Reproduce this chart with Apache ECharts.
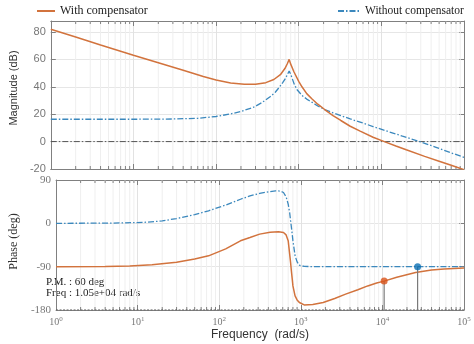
<!DOCTYPE html>
<html><head><meta charset="utf-8">
<script src="https://cdn.jsdelivr.net/npm/echarts@6/dist/echarts.min.js"></script>
<style>html,body{margin:0;padding:0;background:#fff}#c{width:474px;height:344px}</style>
</head><body><div id="c"></div>
<script>
// ---------- data ----------
const magWithFreq = [1,2,4,10,20,40,70,100,150,220,300,400,500,600,680,730,766,800,877,1000,1100,1250,1440,1700,2060,2600,3230,4200,5540,7940,10860,15000,20000,33400,50000,70000,100000];
const magWith     = [82,76.3,70.5,63,57.5,52,47.5,45,42.8,41.8,41.8,43,45.3,48.8,53.3,57,60,56.5,50.8,44,39.8,35,31.3,27.3,23.4,19,15.4,11.2,7.6,3.2,0,-3.2,-6,-10.8,-14.3,-17.3,-20.5];

const magWithoutFreq = [1,10,30,60,100,150,200,285,360,446,520,585,640,690,730,766,800,877,950,1097,1250,1438,1700,2060,2600,3230,4200,5540,7940,12000,18000,29200,45000,70000,100000];
const magWithout     = [16.3,16.3,16.5,17,18.3,20.2,22,25.1,28.5,32.5,36,39.8,43,46,49,51.5,49.2,42.3,38,33.7,31,28.8,26,23.4,21,19,16.5,14.2,11,7.4,4,0,-4,-8.2,-11.5];

const phWithoutFreq = [1,5,12,20,30,50,74,120,182,238,313,400,490,560,613,660,700,730,750,775,800,850,900,960,1100,1500,3000,10000,100000];
const phWithout     = [0,0.5,2,5,10,18,26,38,50,57,62,65.5,67.5,67,64,55,40,22,5,-15,-36,-67,-80,-87,-89.5,-90,-90,-90,-90];

const phWithFreq = [1,4,8,15,30,50,74,120,182,238,313,420,533,613,660,700,730,750,766,785,800,850,900,960,1100,1400,1880,2600,3540,5000,6600,8500,10500,15000,25500,40000,57000,100000];
const phWith     = [-90,-89.5,-88.5,-86,-81,-74,-67.5,-53,-36.3,-29.5,-22.4,-18.5,-17.7,-19,-24,-36,-64,-82,-99,-116,-130,-150.6,-159,-164.5,-169.5,-168.5,-164.5,-156,-147,-138,-130,-124,-120,-112,-102,-97,-95,-93];

const pmPointWith    = [10500, -120];   // phase margin point, with compensator
const pmPointWithout = [27000, -90];    // crossover point, without compensator
const magTicks   = [-20, 0, 20, 40, 60, 80];
const phaseTicks = [-180, -90, 0, 90];
const decades    = [1, 10, 100, 1000, 10000, 100000];
const minorFreqs = [];
for (let k = 0; k < 5; k++) for (let m = 2; m <= 9; m++) minorFreqs.push(m * Math.pow(10, k));

const zip = (a, b) => a.map((v, i) => [v, b[i]]);
const ORANGE = '#d2733d', BLUE = '#3b88bd';
const SERIF = 'Liberation Serif', SANS = 'Liberation Sans';
const DASHDOT = [6, 2, 1.5, 2];

const chart = echarts.init(document.getElementById('c'));

function baseX(gridIndex, pos, showLabel) {
  return {
    type: 'log', logBase: 10, min: 1, max: 100000, gridIndex, position: pos,
    axisLine: { show: true, onZero: false, lineStyle: { color: '#808080', width: 1 } },
    axisTick: { show: true, inside: true, length: 5, lineStyle: { color: '#808080' } },
    axisLabel: showLabel ? {
      show: true, margin: 6,
      formatter: v => '{b|10}{s|' + Math.round(Math.log10(v)) + '}',
      rich: {
        b: { fontFamily: SERIF, fontSize: 10, color: '#777', lineHeight: 12 },
        s: { fontFamily: SERIF, fontSize: 7, color: '#777', verticalAlign: 'top', lineHeight: 12, padding: [0, 0, 4, 0] }
      }
    } : { show: false },
    splitLine: { show: pos === 'bottom', lineStyle: { color: '#e2e2e2', width: 1 } }
  };
}
function baseY(gridIndex, pos, min, max, interval, font, show) {
  return {
    type: 'value', gridIndex, position: pos, min, max, interval,
    axisLine: { show: true, onZero: false, lineStyle: { color: '#808080', width: 1 } },
    axisTick: { show: true, inside: true, length: 5, lineStyle: { color: '#808080' } },
    axisLabel: show ? { show: true, fontFamily: font, fontSize: 11, color: '#777', margin: 5, showMaxLabel: max % interval === 0,
      formatter: v => (v % interval === 0 ? String(v) : '') } : { show: false },
    splitLine: { show: pos === 'left', lineStyle: { color: '#e6e6e6', width: 1 } }
  };
}

const xAxes = [baseX(0, 'bottom', false), baseX(0, 'top', false), baseX(1, 'bottom', true), baseX(1, 'top', false)];
xAxes[2].name = 'Frequency  (rad/s)';
xAxes[2].nameLocation = 'middle';
xAxes[2].nameGap = 19;
xAxes[2].nameTextStyle = { fontFamily: SANS, fontSize: 12, color: '#333', verticalAlign: 'top' };

const yAxes = [
  baseY(0, 'left', -20, 88, 20, SANS, true),
  baseY(0, 'right', -20, 88, 20, SANS, false),
  baseY(1, 'left', -180, 90, 90, SERIF, true),
  baseY(1, 'right', -180, 90, 90, SERIF, false)
];
yAxes[0].name = 'Magnitude (dB)'; yAxes[0].nameLocation = 'middle'; yAxes[0].nameGap = 22;
yAxes[0].nameTextStyle = { fontFamily: SANS, fontSize: 11, color: '#333', padding: [0, 0, 0, 14] };
yAxes[2].name = 'Phase (deg)'; yAxes[2].nameLocation = 'middle'; yAxes[2].nameGap = 23;
yAxes[2].nameTextStyle = { fontFamily: SERIF, fontSize: 12, color: '#333', padding: [0, 0, 0, 7] };

function minorSeries(xi, yi, yval) {
  return {
    type: 'custom', xAxisIndex: xi, yAxisIndex: yi, silent: true, z: 1, clip: false,
    data: minorFreqs.map(f => [f, yval]),
    encode: { x: 0, y: 1 },
    renderItem: (params, api) => {
      const cs = params.coordSys;
      const x = api.coord([api.value(0), yval])[0];
      const top = cs.y, bot = cs.y + cs.height;
      return { type: 'group', children: [
        { type: 'line', shape: { x1: x, y1: top, x2: x, y2: bot }, style: { stroke: '#efefef', lineWidth: 1 } },
        { type: 'line', shape: { x1: x, y1: top, x2: x, y2: top + 3 }, style: { stroke: '#808080', lineWidth: 1 } },
        { type: 'line', shape: { x1: x, y1: bot, x2: x, y2: bot - 3 }, style: { stroke: '#808080', lineWidth: 1 } }
      ]};
    }
  };
}

const legendCommon = {
  top: 0, itemHeight: 12, itemGap: 6,
  itemStyle: { color: 'rgba(0,0,0,0)', borderColor: 'rgba(0,0,0,0)', borderWidth: 0 },
  textStyle: { fontFamily: SERIF, fontSize: 12, color: '#222' }
};

const option = {
  animation: false,
  backgroundColor: '#fff',
  grid: [
    { left: 37, right: 10, top: 21, height: 148 },
    { left: 37, right: 10, top: 180, height: 130 }
  ],
  legend: [
    Object.assign({ left: 31, itemWidth: 18, data: ['With compensator'] }, legendCommon),
    Object.assign({}, legendCommon, { left: 332, itemWidth: 22, data: ['Without compensator'],
      textStyle: { fontFamily: SERIF, fontSize: 11.5, color: '#222' } })
  ],
  xAxis: xAxes,
  yAxis: yAxes,
  graphic: [
    { type: 'text', left: 46, top: 277, style: { text: 'P.M. : 60 deg', font: '11px "Liberation Serif"', fill: '#222' } },
    { type: 'text', left: 46, top: 288, style: { text: 'Freq : 1.05e+04 rad/s', font: '11px "Liberation Serif"', fill: '#222' } }
  ],
  series: [
    minorSeries(0, 0, 0),
    minorSeries(2, 2, 0),
    { name: '0dB', type: 'line', xAxisIndex: 0, yAxisIndex: 0, symbol: 'none', silent: true, z: 2,
      data: [[1, 0], [100000, 0]], lineStyle: { color: '#555', width: 1, type: DASHDOT } },
    { name: '-180', type: 'line', xAxisIndex: 2, yAxisIndex: 2, symbol: 'none', silent: true, z: 2,
      data: [[1, -180], [100000, -180]], lineStyle: { color: '#555', width: 1, type: [2, 1.5] } },
    { name: 'Without compensator', type: 'line', xAxisIndex: 0, yAxisIndex: 0, symbol: 'none', z: 3,
      data: zip(magWithoutFreq, magWithout), color: BLUE, lineStyle: { color: BLUE, width: 1.3, type: DASHDOT } },
    { name: 'With compensator', type: 'line', xAxisIndex: 0, yAxisIndex: 0, symbol: 'none', z: 4,
      data: zip(magWithFreq, magWith), color: ORANGE, lineStyle: { color: ORANGE, width: 1.5 } },
    { name: 'Without compensator', type: 'line', xAxisIndex: 2, yAxisIndex: 2, symbol: 'none', z: 3,
      data: zip(phWithoutFreq, phWithout), color: BLUE, lineStyle: { color: BLUE, width: 1.3, type: DASHDOT } },
    { name: 'With compensator', type: 'line', xAxisIndex: 2, yAxisIndex: 2, symbol: 'none', z: 4,
      data: zip(phWithFreq, phWith), color: ORANGE, lineStyle: { color: ORANGE, width: 1.5 } },
    { name: 'stemWith', type: 'line', xAxisIndex: 2, yAxisIndex: 2, symbol: 'none', silent: true, z: 5,
      data: [pmPointWith, [pmPointWith[0], -180]], lineStyle: { color: '#7a7a7a', width: 1.2 } },
    { name: 'stemWithout', type: 'line', xAxisIndex: 2, yAxisIndex: 2, symbol: 'none', silent: true, z: 5,
      data: [pmPointWithout, [pmPointWithout[0], -180]], lineStyle: { color: '#7a7a7a', width: 1.2 } },
    { name: 'pmWith', type: 'scatter', xAxisIndex: 2, yAxisIndex: 2, symbolSize: 7, z: 6, silent: true,
      data: [pmPointWith], itemStyle: { color: '#d95319' } },
    { name: 'pmWithout', type: 'scatter', xAxisIndex: 2, yAxisIndex: 2, symbolSize: 7, z: 6, silent: true,
      data: [pmPointWithout], itemStyle: { color: '#0b6fb3' } }
  ]
};
chart.setOption(option);
</script></body></html>
